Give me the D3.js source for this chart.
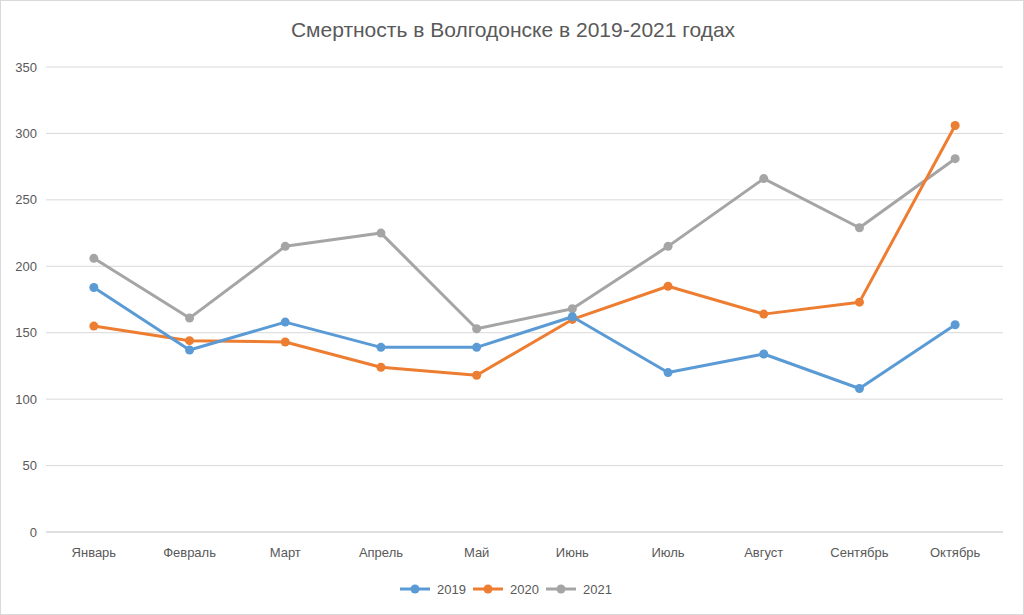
<!DOCTYPE html>
<html><head><meta charset="utf-8">
<script src="https://cdn.jsdelivr.net/npm/d3@7"></script>
<style>body{margin:0;background:#fff}svg{display:block;font-family:"Liberation Sans","DejaVu Sans",sans-serif}</style>
</head><body><svg id="chart" width="1024" height="615"></svg>
<script>
const months = ["Январь","Февраль","Март","Апрель","Май","Июнь","Июль","Август","Сентябрь","Октябрь"];
const yTicks = [0,50,100,150,200,250,300,350];
const values2019 = [184,137,158,139,139,162,120,134,108,156];
const values2020 = [155,144,143,124,118,160,185,164,173,306];
const values2021 = [206,161,215,225,153,168,215,266,229,281];
const seriesNames = ["2019","2020","2021"];
const seriesColors = ["#5B9BD5","#ED7D31","#A5A5A5"];

const svg = d3.select("#chart");
const series = [values2019, values2020, values2021];
const M = {top: 67, right: 21, bottom: 83, left: 46};
const W = 1024, H = 615;

svg.append("rect").attr("x",0.5).attr("y",0.5).attr("width",W-1).attr("height",H-1)
	.attr("fill","#fff").attr("stroke","#d9d9d9");

const x = d3.scaleBand().domain(months).range([M.left, W - M.right]);
const y = d3.scaleLinear().domain([0,350]).range([H - M.bottom, M.top]);

svg.append("g").selectAll("line").data(yTicks).join("line")
	.attr("x1", M.left).attr("x2", W - M.right)
	.attr("y1", d => y(d)).attr("y2", d => y(d))
	.attr("stroke", d => d === 0 ? "#bfbfbf" : "#d9d9d9");

svg.append("g").selectAll("text").data(yTicks).join("text")
	.attr("x", 37).attr("y", d => y(d)).attr("dy","0.35em")
	.attr("text-anchor","end").attr("font-size",13).attr("fill","#595959").text(d => d);

svg.append("g").selectAll("text").data(months).join("text")
	.attr("x", d => x(d) + x.bandwidth()/2).attr("y", 557)
	.attr("text-anchor","middle").attr("font-size",13).attr("fill","#595959").text(d => d);

svg.append("text").attr("x", W/2 + 1).attr("y", 37).attr("text-anchor","middle")
	.attr("font-size",21).attr("fill","#595959").text("Смертность в Волгодонске в 2019-2021 годах");

const line = d3.line().x((d,i) => x(months[i]) + x.bandwidth()/2).y(d => y(d));

[2,1,0].forEach(k => {
	const g = svg.append("g");
	g.append("path").datum(series[k]).attr("d", line).attr("fill","none")
		.attr("stroke", seriesColors[k]).attr("stroke-width",3).attr("stroke-linejoin","round");
	g.selectAll("circle").data(series[k]).join("circle")
		.attr("cx",(d,i) => x(months[i]) + x.bandwidth()/2).attr("cy", d => y(d))
		.attr("r",4.5).attr("fill", seriesColors[k]);
});

const legend = svg.append("g");
const lx = [400, 473, 546];
seriesNames.forEach((n,i) => {
	legend.append("line").attr("x1",lx[i]).attr("x2",lx[i]+30).attr("y1",589).attr("y2",589)
		.attr("stroke",seriesColors[i]).attr("stroke-width",3);
	legend.append("circle").attr("cx",lx[i]+15).attr("cy",589).attr("r",4.5).attr("fill",seriesColors[i]);
	legend.append("text").attr("x",lx[i]+37).attr("y",589).attr("dy","0.35em")
		.attr("font-size",13).attr("fill","#595959").text(n);
});
</script></body></html>
